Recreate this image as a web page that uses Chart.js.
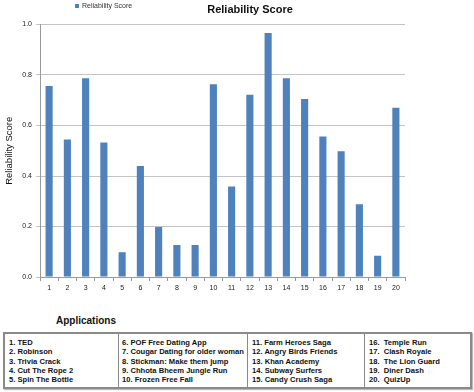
<!DOCTYPE html>
<html>
<head>
<meta charset="utf-8">
<script src="https://cdn.jsdelivr.net/npm/chart.js@4"></script>
<style>
  html, body { margin: 0; padding: 0; background: #fff; }
  #wrap { position: relative; width: 474px; height: 392px; overflow: hidden; font-family: "Liberation Sans", Arial, sans-serif; }
  #chartBox { position: absolute; left: 0; top: 0; width: 474px; height: 300px; }
  #title { position: absolute; top: 3px; left: 200px; width: 100px; text-align: center; font: bold 11px "Liberation Sans", Arial, sans-serif; color: #111; white-space: nowrap; }
  #legend { position: absolute; top: 2px; left: 75px; font: 7px "Liberation Sans", Arial, sans-serif; color: #333; white-space: nowrap; display: flex; align-items: center; }
  #legend span.sw { display: inline-block; width: 4px; height: 4px; margin-right: 3px; }
  #appsTitle { position: absolute; left: 56px; top: 315px; font: bold 10px "Liberation Sans", Arial, sans-serif; color: #111; }
  #table { position: absolute; left: 3px; top: 332px; width: 465px; height: 53px; border: 2px solid #8a8a8a; box-shadow: 1px 1px 1px #bbb; display: flex; }
  .col { box-sizing: border-box; height: 100%; padding: 4px 0 0 4px; font: bold 7.6px "Liberation Sans", Arial, sans-serif; line-height: 9.3px; color: #111; white-space: pre; overflow: hidden; }
  .col + .col { border-left: 1px solid #8a8a8a; }
</style>
</head>
<body>
<div id="wrap">
  <div id="chartBox"><canvas id="c" width="474" height="300"></canvas></div>
  <div id="title"></div>
  <div id="legend"></div>
  <div id="appsTitle">Applications</div>
  <div id="table"></div>
</div>
<script>
const chartTitle = "Reliability Score";
const seriesLabel = "Reliability Score";
const yAxisTitle = "Reliability Score";
const categories = ["1","2","3","4","5","6","7","8","9","10","11","12","13","14","15","16","17","18","19","20"];
const scores = [0.756, 0.545, 0.787, 0.533, 0.098, 0.44, 0.198, 0.127, 0.127, 0.763, 0.358, 0.722, 0.966, 0.787, 0.705, 0.556, 0.498, 0.288, 0.084, 0.67];
const yTicks = [0, 0.2, 0.4, 0.6, 0.8, 1.0];
const appNames = ["TED","Robinson","Trivia Crack","Cut The Rope 2","Spin The Bottle",
  "POF Free Dating App","Cougar Dating for older woman","Stickman: Make them jump","Chhota Bheem Jungle Run","Frozen Free Fall",
  "Farm Heroes Saga","Angry Birds Friends","Khan Academy","Subway Surfers","Candy Crush Saga",
  "Temple Run","Clash Royale","The Lion Guard","Diner Dash","QuizUp"];

const barColor = "#4F81BD";

document.getElementById("title").textContent = chartTitle;
const leg = document.getElementById("legend");
leg.innerHTML = '<span class="sw" style="background:' + barColor + '"></span>' + seriesLabel;

// Table of applications
const colWidths = [113, 129, 117, 106];
const table = document.getElementById("table");
for (let c = 0; c < 4; c++) {
  const d = document.createElement("div");
  d.className = "col";
  d.style.width = colWidths[c] + "px";
  if (c === 1) d.style.paddingLeft = "3px";
  const lines = [];
  for (let r = 0; r < 5; r++) {
    const i = c * 5 + r;
    const sep = (i + 1) >= 16 ? ".  " : ". ";
    lines.push(categories[i] + sep + appNames[i]);
  }
  d.textContent = lines.join("\n");
  table.appendChild(d);
}

new Chart(document.getElementById("c"), {
  type: "bar",
  data: {
    labels: categories,
    datasets: [{
      label: seriesLabel,
      data: scores,
      backgroundColor: barColor,
      borderWidth: 0,
      barPercentage: 0.39,
      categoryPercentage: 1.0
    }]
  },
  options: {
    responsive: false,
    maintainAspectRatio: false,
    animation: false,
    devicePixelRatio: 1,
    layout: { padding: { top: 24.5, right: 69, left: 0, bottom: 0 } },
    plugins: {
      legend: { display: false },
      title: { display: false },
      tooltip: { enabled: false }
    },
    scales: {
      x: {
        offset: true,
        grid: { display: true, drawOnChartArea: false, drawTicks: true, tickLength: 4, offset: true, color: "#9a9a9a" },
        border: { display: true, color: "#9a9a9a", width: 1 },
        ticks: { color: "#222", font: { size: 7, family: "'Liberation Sans', Arial, sans-serif" }, padding: 3, maxRotation: 0, autoSkip: false },
        afterFit: (s) => { s.height = 23; }
      },
      y: {
        min: 0, max: 1,
        afterBuildTicks: (s) => { s.ticks = yTicks.map(v => ({ value: v })); },
        grid: { color: "#c4c4c4", lineWidth: 1, tickLength: 4, drawTicks: true },
        border: { display: true, color: "#9a9a9a", width: 1 },
        ticks: {
          color: "#222",
          font: { size: 7, family: "'Liberation Sans', Arial, sans-serif" },
          padding: 4,
          callback: (v) => Number(v).toFixed(1)
        },
        title: { display: true, text: yAxisTitle, color: "#111", font: { size: 9.5, family: "'Liberation Sans', Arial, sans-serif" }, padding: { top: 4, bottom: 0 } },
        afterFit: (s) => { s.width = 40; }
      }
    }
  }
});
</script>
</body>
</html>
